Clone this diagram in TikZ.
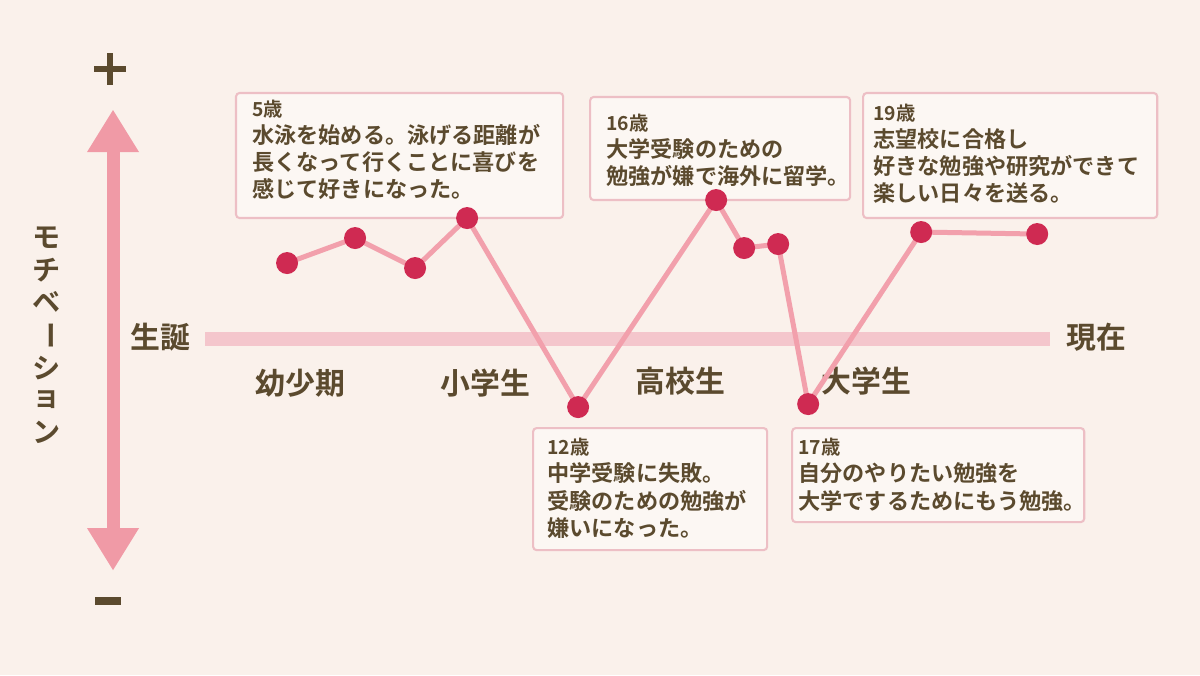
\documentclass[tikz,border=0pt]{standalone}
\usepackage{fontspec}
\newfontfamily\jp{Noto Sans CJK JP Bold}
\definecolor{bg}{HTML}{FAF1EB}
\definecolor{ln}{HTML}{F2A0AC}
\definecolor{dot}{HTML}{CF2A52}
\definecolor{base}{HTML}{F4C6CC}
\definecolor{txt}{HTML}{5B4A2E}
\definecolor{bx}{HTML}{EDBFC5}
\definecolor{arr}{HTML}{F09AA6}
\tikzset{
 p/.style={shift={(0,13.5)},x=0.02cm,y=-0.02cm},
 pt/.style={circle,fill=dot,inner sep=0pt,minimum size=0.44cm},
 box/.style={draw=bx,line width=1.2pt,fill=bg!60!white,rounded corners=2pt},
 bt/.style={anchor=north west,align=left,text=txt,font=\jp\fontsize{12.6}{15.4}\selectfont,inner sep=0pt},
 lab/.style={text=txt,font=\jp\fontsize{17}{20}\selectfont},
 vt/.style={text=txt,font=\jp\fontsize{16}{20}\selectfont,inner sep=0pt},
}
\begin{document}
\begin{tikzpicture}
\fill[bg] (0,0) rectangle (24,13.5);
\begin{scope}[p]
\draw[base,line width=0.28cm] (205,339) -- (1050,339);
\node[lab] (birth) at (160,337) {生誕};
\node[lab] (now) at (1096,337) {現在};
\node[lab] (s1) at (300,383) {幼少期};
\node[lab] (s2) at (485,383) {小学生};
\node[lab] (s3) at (680,381) {高校生};
\node[lab] (s4) at (866,381) {大学生};
\coordinate (at) at (113,110);
\coordinate (ab) at (113,570);
\draw[arr,line width=0.26cm] (113,150) -- (113,530);
\fill[arr] (at) -- (139,152) -- (87,152) -- cycle;
\fill[arr] (ab) -- (139,528) -- (87,528) -- cycle;
\fill[txt] (94,66) rectangle (126,72);
\fill[txt] (107,53) rectangle (113,85);
\fill[txt] (95,597) rectangle (121,605);
\node[vt] (m1) at (47,238) {モ};
\node[vt] (m2) at (47,270) {チ};
\node[vt] (m3) at (47,302) {ベ};
\node[vt,rotate=-90] (m4) at (47,335) {ー};
\node[vt] (m5) at (47,368) {シ};
\node[vt] (m6) at (47,400) {ョ};
\node[vt] (m7) at (47,432) {ン};
\draw[box] (236,93) rectangle (563,218);
\node[bt] (t1) at (252,100) {{\fontsize{11}{15}\selectfont 5歳}\\水泳を始める。泳げる距離が\\長くなって行くことに喜びを\\感じて好きになった。};
\draw[box] (590,97) rectangle (850,200);
\node[bt] (t2) at (606,114) {{\fontsize{11}{15}\selectfont 16歳}\\大学受験のための\\勉強が嫌で海外に留学。};
\draw[box] (863,93) rectangle (1157,218);
\node[bt] (t3) at (873,104) {{\fontsize{11}{15}\selectfont 19歳}\\志望校に合格し\\好きな勉強や研究ができて\\楽しい日々を送る。};
\draw[box] (533,428) rectangle (767,550);
\node[bt] (t4) at (547,438) {{\fontsize{11}{15}\selectfont 12歳}\\中学受験に失敗。\\受験のための勉強が\\嫌いになった。};
\draw[box] (792,428) rectangle (1084,522);
\node[bt] (t5) at (798,438) {{\fontsize{11}{15}\selectfont 17歳}\\自分のやりたい勉強を\\大学でするためにもう勉強。};
\coordinate (a) at (287,263);
\coordinate (b) at (355,238);
\coordinate (c) at (415,268);
\coordinate (d) at (467,218);
\coordinate (e) at (578,407);
\coordinate (f) at (716,200);
\coordinate (g) at (744,248);
\coordinate (h) at (778,244);
\coordinate (i) at (808,404);
\coordinate (j) at (921,232);
\coordinate (k) at (1037,234);
\draw[ln,line width=0.1cm,line join=round] (a)--(b)--(c)--(d)--(e)--(f)--(g)--(h)--(i)--(j)--(k);
\foreach \q in {a,b,c,d,e,f,g,h,i,j,k} \node[pt] (n\q) at (\q) {};
\end{scope}
\end{tikzpicture}
\end{document}
